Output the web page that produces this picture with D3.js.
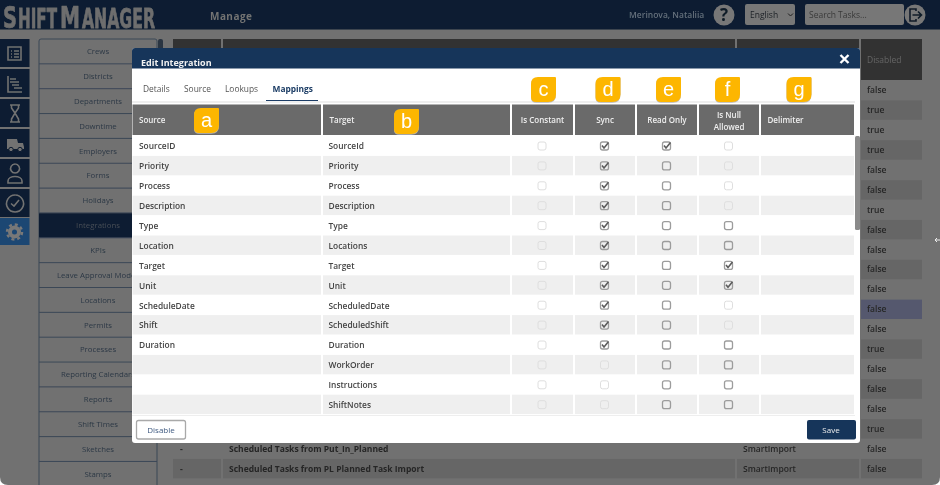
<!DOCTYPE html>
<html>
<head>
<meta charset="utf-8">
<title>Edit Integration</title>
<script src="https://d3js.org/d3.v7.min.js"></script>
<style>
    html, body { margin: 0; padding: 0; background: #fff; overflow: hidden; }
    svg { display: block; font-family: "Open Sans", sans-serif; }
</style>
</head>
<body>
<svg width="940" height="485"></svg>
<script>
// menu + background table
var menuItems = ["Crews", "Districts", "Departments", "Downtime", "Employers", "Forms", "Holidays", "Integrations", "KPIs",
    "Leave Approval Modes", "Locations", "Permits", "Processes", "Reporting Calendars", "Reports", "Shift Times", "Sketches", "Stamps"];
var disabledValues = ["false", "true", "true", "true", "false", "false", "true", "false", "false", "false", "false", "false",
    "false", "true", "false", "false", "false", "true", "false", "false"];
var bottomRows = ["Scheduled Tasks from Put_In_Planned", "Scheduled Tasks from PL Planned Task Import"];

// modal table
var tabs = ["Details", "Source", "Lookups", "Mappings"];
var columns = ["Source", "Target", "Is Constant", "Sync", "Read Only", "Is Null Allowed", "Delimiter"];
var sources = ["SourceID", "Priority", "Process", "Description", "Type", "Location", "Target", "Unit", "ScheduleDate", "Shift", "Duration", "", "", ""];
var targets = ["SourceId", "Priority", "Process", "Description", "Type", "Locations", "Target", "Unit", "ScheduledDate", "ScheduledShift", "Duration", "WorkOrder", "Instructions", "ShiftNotes"];
// c = checked, o = open, d = disabled
var isConstant = ["d", "d", "d", "d", "d", "d", "d", "d", "d", "d", "d", "d", "d", "d"];
var sync = ["c", "c", "c", "c", "c", "c", "c", "c", "c", "c", "c", "d", "d", "d"];
var readOnly = ["c", "o", "o", "o", "o", "o", "o", "o", "o", "o", "o", "o", "o", "o"];
var isNull = ["d", "d", "d", "d", "o", "o", "c", "c", "d", "d", "o", "o", "o", "o"];
var badges = ["a", "b", "c", "d", "e", "f", "g"];

var navy = "#16355a", dark = "#0b1b30", yellow = "#fdb606";
var svg = d3.select("svg");

// the reference is a slightly soft screenshot
svg.append("defs").append("filter").attr("id", "soft")
    .attr("filterUnits", "userSpaceOnUse").attr("x", 0).attr("y", 0).attr("width", 940).attr("height", 485)
    .append("feGaussianBlur").attr("stdDeviation", 0.4);
var root = svg.append("g").attr("filter", "url(#soft)");

function rect(p, x, y, w, h, fill, r) {
    return p.append("rect").attr("x", x).attr("y", y).attr("width", w).attr("height", h).attr("fill", fill).attr("rx", r || 0);
}
function label(p, x, y, s, size, fill, weight, anchor) {
    return p.append("text").attr("x", x).attr("y", y).attr("dy", "0.35em").attr("font-size", size).attr("fill", fill)
        .attr("font-weight", weight || 400).attr("text-anchor", anchor || "start").text(s);
}

// page background
var page = root.append("g");
page.append("path").attr("fill", "#717171").attr("d", "M0,0H940V477Q940,485 932,485H8Q0,485 0,477Z");
rect(page, 0, 0, 940, 29.5, dark);

// header, each logo piece gets squeezed to its width
[["S", 3, 14, 30, 1], ["HIFT", 18, 39, 24, 1.1], ["M", 60, 20, 30, 1], ["ANAGER", 82, 73, 24, 1.1]].forEach(function (p) {
    var t = page.append("text").attr("font-family", "'Liberation Sans Narrow','DejaVu Sans Condensed',sans-serif")
        .attr("font-weight", 700).attr("fill", "#6e6e6e").attr("stroke", "#6e6e6e").attr("stroke-width", 0.7)
        .attr("font-size", p[3]).text(p[0]);
    var sx = p[2] / t.node().getComputedTextLength();
    t.attr("transform", "translate(" + p[1] + ",27.5) scale(" + sx + "," + p[4] + ")");
});
label(page, 210, 16.5, "Manage", 10, "#737373", 700).attr("letter-spacing", 0.45);
label(page, 629, 15, "Merinova, Nataliia", 8.5, "#66717d", 600);
page.append("circle").attr("cx", 724).attr("cy", 15).attr("r", 10.5).attr("fill", "#777");
label(page, 724, 15, "?", 17, "#111b28", 700, "middle");
rect(page, 745, 4, 50, 21, "#777", 2);
label(page, 750, 15, "English", 8.5, "#1c2026");
page.append("path").attr("d", "M788,13.5l2.5,2.5l2.5,-2.5").attr("fill", "none").attr("stroke", "#222");
rect(page, 805, 4, 99, 21, "#777", 2);
label(page, 809, 15, "Search Tasks...", 8.5, "#3a3a3a");
page.append("circle").attr("cx", 915).attr("cy", 15).attr("r", 10.5).attr("fill", "#777");
page.append("path").attr("d", "M916,11V9H910V21H916V19M912.5,15H921M918,11.5L921.5,15L918,18.5").attr("fill", "none").attr("stroke", "#111b28").attr("stroke-width", 1.6);

// side icons
var iconY = d3.scaleLinear().domain([0, 1]).range([39, 69]);
var icons = [
    "M8,47H21V60H8ZM11,51H12M14,51H19M11,54H12M14,54H19M11,57H12M14,57H19",
    "M8,76V92H22M10,79H16M10,82H19M12,85H19M14,88H22",
    "M10,105H20M10,122H20M11.5,105V108L15,113L18.5,108V105M11.5,122V119L15,113L18.5,119V122",
    null,
    "M15,164a4.5,4.5 0 1,0 .1,0M8,183V181C8,175 22,175 22,181V183Z",
    "M15,195a8.5,8.5 0 1,0 .1,0M11,203.5L14,206L19,200"
];
icons.forEach(function (d, i) {
    rect(page, 0, iconY(i), 29.5, 28, dark);
    if (d) page.append("path").attr("d", d).attr("fill", "none").attr("stroke", "#727272").attr("stroke-width", 1.6);
});
// dump truck
page.append("path").attr("fill", "#727272").attr("d", "M7,139H17L18,143H23L24,147V149H7Z");
page.append("circle").attr("cx", 11).attr("cy", 149.5).attr("r", 2.2).attr("fill", "#727272").attr("stroke", dark);
page.append("circle").attr("cx", 20).attr("cy", 149.5).attr("r", 2.2).attr("fill", "#727272").attr("stroke", dark);
rect(page, 0, iconY(6) - 1, 29.5, 27, "#1c4673");
page.append("circle").attr("cx", 14.5).attr("cy", 232).attr("r", 4.5).attr("fill", "none").attr("stroke", "#787878").attr("stroke-width", 4);
page.append("circle").attr("cx", 14.5).attr("cy", 232).attr("r", 7.5).attr("fill", "none").attr("stroke", "#787878").attr("stroke-width", 2.5).attr("stroke-dasharray", "3 2.9");

// side menu
var menuY = d3.scaleLinear().domain([0, 1]).range([39, 63.85]);
page.append("path").attr("d", "M39,485V41Q39,39 41,39H155Q157,39 157,41V485").attr("fill", "none").attr("stroke", "#3b4757").attr("stroke-width", 1);
rect(page, 158, 39, 5, 90, "#2b3542", 2);
menuItems.forEach(function (m, i) {
    var y = menuY(i);
    if (m == "Integrations") rect(page, 39, y, 118, menuY(i + 1) - y, dark);
    if (i > 0) page.append("line").attr("x1", 39).attr("x2", 157).attr("y1", y).attr("y2", y).attr("stroke", "#3b4757");
    label(page, 98, (y + menuY(i + 1)) / 2, m, 7.8, m == "Integrations" ? "#4a4f58" : "#2c3845", 400, "middle");
});

// table behind the modal
var backX = { first: 173, a: 223, b: 737, c: 861 };
rect(page, backX.first, 39, 48, 41, "#333");
rect(page, backX.a, 39, 512, 41, "#333");
rect(page, backX.b, 39, 122, 41, "#333");
rect(page, backX.c, 39, 61, 41, "#333");
label(page, 867, 60, "Disabled", 8.5, "#656565");
var rowY = d3.scaleLinear().domain([0, 1]).range([80.5, 100.42]);
disabledValues.forEach(function (v, i) {
    var y = rowY(i), fill = i == 11 ? "#55596e" : (i % 2 ? "#666" : null);
    if (fill) {
        rect(page, backX.c, y, 61, 19.4, fill);
        if (i % 2) {
            rect(page, backX.first, y, 48, 19.4, "#666");
            rect(page, backX.a, y, 512, 19.4, "#666");
            rect(page, backX.b, y, 122, 19.4, "#666");
        }
    }
    label(page, 867, y + 9.7, v, 8.5, "#262626", 600);
});
bottomRows.forEach(function (s, i) {
    var y = rowY(18 + i) + 9.7;
    label(page, 180, y, "-", 8.5, "#262626", 700);
    label(page, 229, y, s, 8.5, "#262626", 700);
    label(page, 743, y, "SmartImport", 8.5, "#262626", 600);
});
page.append("path").attr("d", "M935,240h5M935,240l2,-2M935,240l2,2").attr("stroke", "#eee").attr("fill", "none");

// modal
var modal = root.append("g");
rect(modal, 132, 48, 728, 395, "#fff", 3);
modal.append("path").attr("fill", navy).attr("d", "M132,68.5V51Q132,48 135,48H857Q860,48 860,51V68.5Z");
label(modal, 141, 62.5, "Edit Integration", 9, "#f2f2f2", 700);
modal.append("path").attr("d", "M840.5,55L848.5,63M848.5,55L840.5,63").attr("stroke", "#fff").attr("stroke-width", 2.4);

var tabX = d3.scaleOrdinal().domain(tabs).range([143, 184, 225, 272.5]);
tabs.forEach(function (t) {
    label(modal, tabX(t), 89.5, t, 8.4, t == "Mappings" ? "#1d3e66" : "#555", t == "Mappings" ? 700 : 400);
});
rect(modal, 132, 101, 723, 2, "#eee");
rect(modal, 266, 100, 52, 1, "#1d3e66");

var colX = d3.scaleOrdinal().domain(columns).range([132.5, 323, 512, 575, 637, 699, 761]);
var colW = d3.scaleOrdinal().domain(columns).range([188.5, 187, 61, 60, 60, 60, 93]);
var tableY = d3.scaleLinear().domain([0, 1]).range([136, 155.9]);

var rowsG = modal.append("g");
sources.forEach(function (s, i) {
    var y = tableY(i);
    columns.forEach(function (c) {
        if (i % 2) rect(rowsG, colX(c), y, colW(c), Math.min(19.4, 415 - y), "#efefef");
    });
    label(rowsG, 139, y + 10.4, s, 8.4, "#444", 600);
    label(rowsG, 328.5, y + 10.4, targets[i], 8.4, "#444", 600);
});

// check boxes
var boxCols = [[columns[2], isConstant], [columns[3], sync], [columns[4], readOnly], [columns[5], isNull]];
boxCols.forEach(function (bc) {
    var cx = colX(bc[0]) + colW(bc[0]) / 2 - 0.5;
    var g = rowsG.selectAll(null).data(bc[1]).enter().append("g")
        .attr("transform", function (d, i) { return "translate(" + cx + "," + (tableY(i) + 10) + ")"; });
    g.append("rect").attr("x", -4).attr("y", -4).attr("width", 8).attr("height", 8).attr("rx", 2).attr("fill", "none")
        .attr("stroke", function (d) { return d == "d" ? "#dedede" : "#9c9c9c"; })
        .attr("stroke-width", function (d) { return d == "d" ? 1 : 1.3; });
    g.filter(function (d) { return d == "c"; }).append("path").attr("d", "M-2.5,-0.5L-0.5,2L4,-3.5")
        .attr("fill", "none").attr("stroke", "#5c5c5c").attr("stroke-width", 1.6);
});

// header row
var headG = modal.append("g");
columns.forEach(function (c, i) {
    rect(headG, colX(c), 104.5, colW(c), 30.5, "#6b6b6b");
    var left = i < 2 || i == 6;
    var tx = left ? colX(c) + 6.5 : colX(c) + colW(c) / 2;
    if (c == "Is Null Allowed") {
        label(headG, tx, 115, "Is Null", 8, "#eee", 600, "middle");
        label(headG, tx, 127, "Allowed", 8, "#eee", 600, "middle");
    } else {
        label(headG, tx, 120.5, c, 8, "#eee", 600, left ? "start" : "middle");
    }
});

// scrollbar
rect(modal, 855, 136, 5, 94, "#8a8a8a", 1.5);

// footer
rect(modal, 132, 415, 723, 1, "#eee");
rect(modal, 136.5, 420.5, 49, 18.5, "#fff", 2).attr("stroke", "#a9a9a9").attr("stroke-width", 1.3);
label(modal, 161, 430, "Disable", 8, "#3f5a80", 400, "middle");
rect(modal, 807, 420, 49, 19.5, navy, 2);
label(modal, 831, 430, "Save", 8, "#eee", 400, "middle");

// badges
var badgeX = d3.scaleOrdinal().domain(badges).range([194, 394, 531, 595.5, 656, 715, 786.5]);
var badgeY = d3.scaleOrdinal().domain(badges).range([108, 109, 77, 77, 77, 77, 77]);
var badgeG = root.append("g").selectAll("g").data(badges).enter().append("g")
    .attr("transform", function (d) { return "translate(" + badgeX(d) + "," + badgeY(d) + ")"; });
badgeG.append("path").attr("d", "M0,7Q0,0 7,0H24Q25,0 25,1V17Q25,25 17,25H5Q0,25 0,20Z").attr("fill", "#b9b9b9").attr("transform", "translate(0,0.8)");
badgeG.append("path").attr("d", "M0,7Q0,0 7,0H24Q25,0 25,1V17Q25,25 17,25H5Q0,25 0,20Z").attr("fill", yellow);
badgeG.append("text").attr("x", 12.5).attr("y", 18.5).attr("text-anchor", "middle").attr("fill", "#fff")
    .attr("font-family", "'Liberation Sans',sans-serif").attr("font-size", 20).text(function (d) { return d; });
</script>
</body>
</html>
